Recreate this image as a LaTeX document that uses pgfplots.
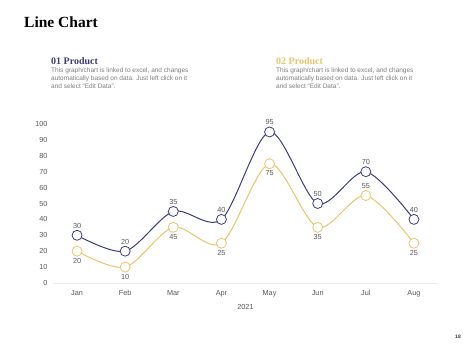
\documentclass[border=0pt]{standalone}
\usepackage{pgfplots}
\pgfplotsset{compat=1.18}
\usepackage{fontspec}
\setmainfont{Liberation Sans}
\newfontfamily\serifb{Liberation Serif}
\definecolor{pblue}{HTML}{3C3C7E}
\definecolor{pgold}{HTML}{E9C56B}
\definecolor{tgray}{HTML}{595959}
\definecolor{bgray}{HTML}{7F7F7F}
\tikzset{lbl/.style={font=\fontsize{7.3}{7.5}\selectfont, text=tgray, inner sep=6.5pt}}
\begin{document}
\begin{tikzpicture}[x=1pt,y=1pt]
\path[use as bounding box, fill=white] (0,0) rectangle (474,355);
\node[anchor=base west, font=\serifb\bfseries\fontsize{15.5}{15.5}\selectfont, inner sep=0] at (24,327) {Line Chart};
\node[anchor=base west, font=\serifb\bfseries\fontsize{10}{10}\selectfont, text=pblue, inner sep=0] at (51,290) {01 Product};
\node[anchor=base west, font=\serifb\bfseries\fontsize{10}{10}\selectfont, text=pgold, inner sep=0] at (276,290) {02 Product};
\node[anchor=north west, align=left, font=\fontsize{6.5}{7.8}\selectfont, text=bgray, inner sep=0] at (51,287.5) {This graph/chart is linked to excel, and changes\\automatically based on data. Just left click on it\\and select “Edit Data”.};
\node[anchor=north west, align=left, font=\fontsize{6.5}{7.8}\selectfont, text=bgray, inner sep=0] at (276,287.5) {This graph/chart is linked to excel, and changes\\automatically based on data. Just left click on it\\and select “Edit Data”.};
\node[font=\bfseries\fontsize{5}{5}\selectfont, text=black!80] at (458,18) {18};
\begin{axis}[
  at={(53pt,72pt)}, anchor=south west,
  scale only axis, width=385pt, height=159pt,
  xmin=-0.5, xmax=7.5, ymin=0, ymax=100,
  axis line style={draw=none},
  axis x line*=bottom,
  x axis line style={draw=black!8},
  xtick={0,...,7},
  xticklabels={Jan,Feb,Mar,Apr,May,Jun,Jul,Aug},
  ytick={0,10,...,100},
  major tick length=0pt,
  tick style={draw=none},
  ticklabel style={font=\fontsize{7.3}{7.5}\selectfont, text=tgray},
  /pgf/number format/assume math mode=true,
  xticklabel style={yshift=-4pt},
  yticklabel style={xshift=-2pt},
  xlabel={2021},
  xlabel style={font=\fontsize{7.3}{7.5}\selectfont, text=tgray, yshift=0pt},
  clip=false,
  point meta=explicit symbolic,
]
\addplot[pgold, line width=1pt, smooth, mark=*, mark size=5pt, mark options={fill=white, line width=0.8pt},
  nodes near coords, nodes near coords align={below},
  every node near coord/.append style={lbl}]
  coordinates {(0,20)[20] (1,10)[10] (2,35)[45] (3,25)[25] (4,75)[75] (5,35)[35] (6,55)[{}] (7,25)[25]};
\addplot[draw=none, mark=none, forget plot, nodes near coords, nodes near coords align={above},
  every node near coord/.append style={lbl}]
  coordinates {(6,55)[55]};
\addplot[pblue, line width=1pt, smooth, mark=*, mark size=5pt, mark options={fill=white, line width=0.8pt},
  nodes near coords, nodes near coords align={above},
  every node near coord/.append style={lbl}]
  coordinates {(0,30)[30] (1,20)[20] (2,45)[35] (3,40)[40] (4,95)[95] (5,50)[50] (6,70)[70] (7,40)[40]};
\end{axis}
\end{tikzpicture}
\end{document}
